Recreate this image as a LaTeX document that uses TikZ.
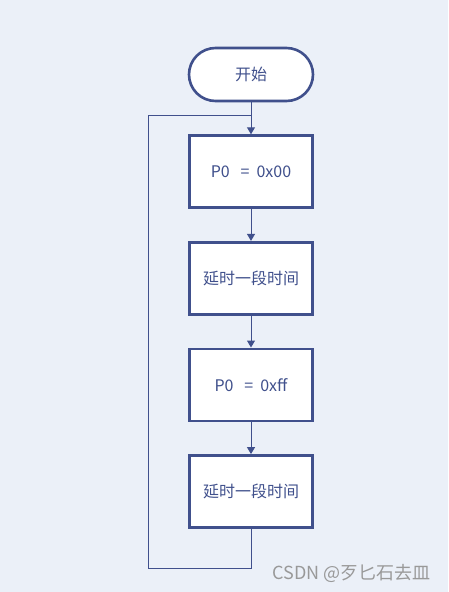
\documentclass[tikz,border=0pt]{standalone}
\usepackage{fontspec}
\setmainfont{Noto Sans CJK SC}
\usetikzlibrary{positioning,arrows.meta,calc}
\definecolor{flowblue}{RGB}{64,80,140}
\definecolor{pagebg}{RGB}{235,240,248}
\newcommand{\stepGap}{32pt}

\begin{document}
\begin{tikzpicture}[x=1pt, y=1pt, node distance=\stepGap]
  \tikzset{
    every node/.style={font=\fontsize{16}{19}\selectfont, text=flowblue},
    terminal/.style={draw=flowblue, fill=white, line width=2.6pt,
      minimum width=124pt, minimum height=53pt, rounded corners=26.5pt},
    stepbox/.style={draw=flowblue, fill=white, line width=2.6pt,
      minimum width=123pt, minimum height=72pt},
    flow/.style={draw=flowblue, line width=1pt},
    flowarrow/.style={flow, -{Triangle[width=8pt,length=7pt]}}
  }
  \fill[pagebg] (0,0) rectangle (448,-592);
  \useasboundingbox (0,0) rectangle (448,-592);
  \node[terminal] (start) at (251,-74.5) {开始};
  \node[stepbox, below=of start] (low) {P0\ \ \ =\ \ 0x00};
  \node[stepbox, below=of low] (waitA) {延时一段时间};
  \node[stepbox, below=of waitA] (high) {P0\ \ \ =\ \ 0xff};
  \node[stepbox, below=of high] (waitB) {延时一段时间};
  % connectors
  \coordinate (join) at ($(start.south)!0.4!(low.north)$);
  \draw[flowarrow] (start) -- (low);
  \draw[flowarrow] (low) -- (waitA);
  \draw[flowarrow] (waitA) -- (high);
  \draw[flowarrow] (high) -- (waitB);
  % loop back
  \coordinate[below=40pt of waitB.south] (loopbot);
  \coordinate (loopleft) at ([xshift=-103pt]join);
  \draw[flow] (waitB) -- (loopbot) -| (loopleft) -- (join);
  \node[text=gray!80, anchor=east, font=\fontsize{18}{20}\selectfont] (mark) at (434,-573) {CSDN @歹匕石去皿};
\end{tikzpicture}
\end{document}
